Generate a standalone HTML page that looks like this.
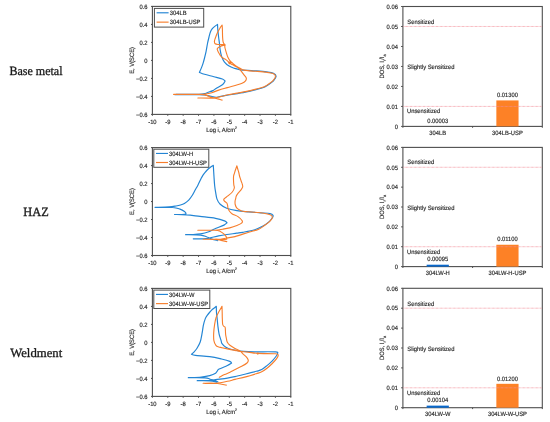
<!DOCTYPE html>
<html><head><meta charset="utf-8"><title>Polarization curves and DOS</title>
<style>html,body{margin:0;padding:0;background:#fff;width:550px;height:422px;overflow:hidden}svg{display:block}</style>
</head><body>
<svg width="550" height="422" viewBox="0 0 550 422" font-family="'Liberation Sans', Arial, sans-serif" font-size="6.25" fill="#262626" text-rendering="geometricPrecision">
<rect width="550" height="422" fill="#fff"/>
<text x="9.5" y="74.9" font-family="'Liberation Serif', 'Times New Roman', serif" font-size="12.6" fill="#1a1a1a" stroke="#1a1a1a" stroke-width="0.3" textLength="53" lengthAdjust="spacingAndGlyphs">Base metal</text>
<text x="23.3" y="215.7" font-family="'Liberation Serif', 'Times New Roman', serif" font-size="12.6" fill="#1a1a1a" stroke="#1a1a1a" stroke-width="0.3" textLength="25.4" lengthAdjust="spacingAndGlyphs">HAZ</text>
<text x="10.2" y="356.5" font-family="'Liberation Serif', 'Times New Roman', serif" font-size="12.6" fill="#1a1a1a" stroke="#1a1a1a" stroke-width="0.3" textLength="52.1" lengthAdjust="spacingAndGlyphs">Weldment</text>
<rect x="152.4" y="6.4" width="138.4" height="108" fill="none" stroke="#4e4e4e" stroke-width="1.1"/>
<line x1="151" y1="6.4" x2="152.4" y2="6.4" stroke="#4e4e4e" stroke-width="1"/>
<text transform="translate(147.6,8.84) scale(0.93,1)" text-anchor="end" stroke="#262626" stroke-width="0.15">0.6</text>
<line x1="151" y1="24.4" x2="152.4" y2="24.4" stroke="#4e4e4e" stroke-width="1"/>
<text transform="translate(147.6,26.84) scale(0.93,1)" text-anchor="end" stroke="#262626" stroke-width="0.15">0.4</text>
<line x1="151" y1="42.4" x2="152.4" y2="42.4" stroke="#4e4e4e" stroke-width="1"/>
<text transform="translate(147.6,44.84) scale(0.93,1)" text-anchor="end" stroke="#262626" stroke-width="0.15">0.2</text>
<line x1="151" y1="60.4" x2="152.4" y2="60.4" stroke="#4e4e4e" stroke-width="1"/>
<text transform="translate(147.6,62.84) scale(0.93,1)" text-anchor="end" stroke="#262626" stroke-width="0.15">0</text>
<line x1="151" y1="78.4" x2="152.4" y2="78.4" stroke="#4e4e4e" stroke-width="1"/>
<text transform="translate(147.6,80.84) scale(0.93,1)" text-anchor="end" stroke="#262626" stroke-width="0.15">−0.2</text>
<line x1="151" y1="96.4" x2="152.4" y2="96.4" stroke="#4e4e4e" stroke-width="1"/>
<text transform="translate(147.6,98.84) scale(0.93,1)" text-anchor="end" stroke="#262626" stroke-width="0.15">−0.4</text>
<line x1="151" y1="114.4" x2="152.4" y2="114.4" stroke="#4e4e4e" stroke-width="1"/>
<text transform="translate(147.6,116.84) scale(0.93,1)" text-anchor="end" stroke="#262626" stroke-width="0.15">−0.6</text>
<line x1="152.4" y1="114.4" x2="152.4" y2="115.8" stroke="#4e4e4e" stroke-width="1"/>
<text transform="translate(152.4,123.6) scale(0.93,1)" text-anchor="middle" stroke="#262626" stroke-width="0.15">-10</text>
<line x1="167.78" y1="114.4" x2="167.78" y2="115.8" stroke="#4e4e4e" stroke-width="1"/>
<text transform="translate(167.78,123.6) scale(0.93,1)" text-anchor="middle" stroke="#262626" stroke-width="0.15">-9</text>
<line x1="183.16" y1="114.4" x2="183.16" y2="115.8" stroke="#4e4e4e" stroke-width="1"/>
<text transform="translate(183.16,123.6) scale(0.93,1)" text-anchor="middle" stroke="#262626" stroke-width="0.15">-8</text>
<line x1="198.53" y1="114.4" x2="198.53" y2="115.8" stroke="#4e4e4e" stroke-width="1"/>
<text transform="translate(198.53,123.6) scale(0.93,1)" text-anchor="middle" stroke="#262626" stroke-width="0.15">-7</text>
<line x1="213.91" y1="114.4" x2="213.91" y2="115.8" stroke="#4e4e4e" stroke-width="1"/>
<text transform="translate(213.91,123.6) scale(0.93,1)" text-anchor="middle" stroke="#262626" stroke-width="0.15">-6</text>
<line x1="229.29" y1="114.4" x2="229.29" y2="115.8" stroke="#4e4e4e" stroke-width="1"/>
<text transform="translate(229.29,123.6) scale(0.93,1)" text-anchor="middle" stroke="#262626" stroke-width="0.15">-5</text>
<line x1="244.67" y1="114.4" x2="244.67" y2="115.8" stroke="#4e4e4e" stroke-width="1"/>
<text transform="translate(244.67,123.6) scale(0.93,1)" text-anchor="middle" stroke="#262626" stroke-width="0.15">-4</text>
<line x1="260.04" y1="114.4" x2="260.04" y2="115.8" stroke="#4e4e4e" stroke-width="1"/>
<text transform="translate(260.04,123.6) scale(0.93,1)" text-anchor="middle" stroke="#262626" stroke-width="0.15">-3</text>
<line x1="275.42" y1="114.4" x2="275.42" y2="115.8" stroke="#4e4e4e" stroke-width="1"/>
<text transform="translate(275.42,123.6) scale(0.93,1)" text-anchor="middle" stroke="#262626" stroke-width="0.15">-2</text>
<line x1="290.8" y1="114.4" x2="290.8" y2="115.8" stroke="#4e4e4e" stroke-width="1"/>
<text transform="translate(290.8,123.6) scale(0.93,1)" text-anchor="middle" stroke="#262626" stroke-width="0.15">-1</text>
<text transform="translate(221.6,131.5) scale(0.93,1)" text-anchor="middle" stroke="#262626" stroke-width="0.15">Log i, A/cm<tspan font-size="3.6" dy="-2.2">2</tspan></text>
<text transform="translate(134.4,60.4) rotate(-90) scale(0.93,1)" text-anchor="middle" stroke="#262626" stroke-width="0.15">E, V(SCE)</text>
<rect x="154.4" y="8.4" width="49.3" height="18.7" fill="#fff" stroke="#4e4e4e" stroke-width="1"/>
<line x1="156.6" y1="12.79" x2="168.6" y2="12.79" stroke="#2385d4" stroke-width="1.15"/>
<line x1="156.6" y1="22.14" x2="168.6" y2="22.14" stroke="#f77e2c" stroke-width="1.15"/>
<text transform="translate(169.7,15.03) scale(0.93,1)" text-anchor="start" stroke="#262626" stroke-width="0.15">304LB</text>
<text transform="translate(169.7,24.38) scale(0.93,1)" text-anchor="start" stroke="#262626" stroke-width="0.15">304LB-USP</text>
<path d="M175,94.7 C179,94.68 194.1,94.55 199,94.6 C203.9,94.65 202.9,94.83 204.4,95 C205.9,95.17 206.7,95.35 208,95.6 C209.3,95.85 211.03,96.23 212.2,96.5 C213.37,96.77 214.03,97.12 215,97.2 C215.97,97.28 216.17,97.3 218,97 C219.83,96.7 223.7,95.82 226,95.4 C228.3,94.98 228.58,95.05 231.8,94.5 C235.02,93.95 241.27,92.92 245.3,92.1 C249.33,91.28 252.97,90.37 256,89.6 C259.03,88.83 261.5,88.28 263.5,87.5 C265.5,86.72 266.33,86.02 268,84.9 C269.67,83.78 272.15,82.23 273.5,80.8 C274.85,79.37 276.12,77.57 276.1,76.3 C276.08,75.03 274.97,73.93 273.4,73.2 C271.83,72.47 269.6,72.28 266.7,71.9 C263.8,71.52 259.12,71.15 256,70.9 C252.88,70.65 250.6,70.58 248,70.4 C245.4,70.22 242.62,70.13 240.4,69.8 C238.18,69.47 236.58,69.02 234.7,68.4 C232.82,67.78 230.83,67.2 229.1,66.1 C227.37,65 225.57,63.47 224.3,61.8 C223.03,60.13 222.2,58.15 221.5,56.1 C220.8,54.05 220.42,51.43 220.1,49.5 C219.78,47.57 219.85,46.58 219.6,44.5 C219.35,42.42 218.9,39.52 218.6,37 C218.3,34.48 217.98,31.5 217.8,29.4 C217.62,27.3 217.55,25.23 217.5,24.4 C217,24.77 215.37,25.88 214.5,26.6 C213.63,27.32 212.98,27.8 212.3,28.7 C211.62,29.6 210.97,30.53 210.4,32 C209.83,33.47 209.38,35.58 208.9,37.5 C208.42,39.42 207.97,41.2 207.5,43.5 C207.03,45.8 206.62,48.8 206.1,51.3 C205.58,53.8 204.88,56.58 204.4,58.5 C203.92,60.42 203.63,61.4 203.2,62.8 C202.77,64.2 202.43,65.3 201.8,66.9 C201.17,68.5 199.8,71.48 199.4,72.4 C200.25,72.72 202.08,73.58 204.5,74.3 C206.92,75.02 210.93,75.92 213.9,76.7 C216.87,77.48 220.43,78.28 222.3,79 C224.17,79.72 224.63,80.67 225.1,81 C224.7,81.58 224.15,83.3 222.7,84.5 C221.25,85.7 218.03,87.18 216.4,88.2 C214.77,89.22 214.35,89.88 212.9,90.6 C211.45,91.32 209.12,92 207.7,92.5 C206.28,93 205.85,93.3 204.4,93.6 C202.95,93.9 203.73,94.18 199,94.3 C194.27,94.42 179.83,94.3 176,94.3" fill="none" stroke="#2385d4" stroke-width="1.18" stroke-linejoin="round" stroke-linecap="round"/>
<path d="M222.1,100.1 C221.12,99.82 217.73,98.75 216.2,98.4 C214.67,98.05 215.95,98.07 212.9,98 C209.85,97.93 200.4,98 197.9,98 C200.4,98.01 209.8,98.12 212.9,98.05 C216,97.98 214.32,98.07 216.5,97.6 C218.68,97.12 223.45,95.78 226,95.2 C228.55,94.62 228.58,94.7 231.8,94.1 C235.02,93.5 241.27,92.43 245.3,91.6 C249.33,90.77 252.97,89.87 256,89.1 C259.03,88.33 261.55,87.75 263.5,87 C265.45,86.25 266.12,85.67 267.7,84.6 C269.28,83.53 271.7,81.98 273,80.6 C274.3,79.22 275.5,77.47 275.5,76.3 C275.5,75.13 274.47,74.27 273,73.6 C271.53,72.93 269.53,72.68 266.7,72.3 C263.87,71.92 258.78,71.53 256,71.3 C253.22,71.07 252,71.1 250,70.9 C248,70.7 245.58,70.48 244,70.1 C242.42,69.72 241.85,69.3 240.5,68.6 C239.15,67.9 237.22,66.8 235.9,65.9 C234.58,65 233.6,64.08 232.6,63.2 C231.6,62.32 230.68,61.58 229.9,60.6 C229.12,59.62 228.5,58.63 227.9,57.3 C227.3,55.97 226.78,54.15 226.3,52.6 C225.82,51.05 225.28,49.27 225,48 C224.72,46.73 224.92,46.03 224.6,45 C224.28,43.97 223.43,43.13 223.1,41.8 C222.77,40.47 222.72,39.07 222.6,37 C222.48,34.93 222.48,31.4 222.4,29.4 C222.32,27.4 222.15,25.73 222.1,25 C221.77,25.48 220.88,26.6 220.1,27.9 C219.32,29.2 218.22,31.03 217.4,32.8 C216.58,34.57 215.7,37.05 215.2,38.5 C214.7,39.95 214.4,40.62 214.4,41.5 C214.4,42.38 214.57,43.3 215.2,43.8 C215.83,44.3 216.95,44.37 218.2,44.5 C219.45,44.63 221.65,44.53 222.7,44.6 C223.75,44.67 224.2,44.85 224.5,44.9 C223.95,45.1 222.25,45.65 221.2,46.1 C220.15,46.55 218.87,47.08 218.2,47.6 C217.53,48.12 217.13,48.37 217.2,49.2 C217.27,50.03 218.03,51.48 218.6,52.6 C219.17,53.72 219.82,54.95 220.6,55.9 C221.38,56.85 222.42,57.68 223.3,58.3 C224.18,58.92 225.08,59.05 225.9,59.6 C226.72,60.15 227.63,60.93 228.2,61.6 C228.77,62.27 228.92,63.3 229.3,63.6 C229.68,63.9 230.33,63.65 230.5,63.4 C230.67,63.15 230.5,62.27 230.3,62.1 C230.1,61.93 229.1,62.05 229.3,62.4 C229.5,62.75 230.73,63.7 231.5,64.2 C232.27,64.7 232.83,64.83 233.9,65.4 C234.97,65.97 236.78,66.77 237.9,67.6 C239.02,68.43 239.55,69.15 240.6,70.4 C241.65,71.65 243.25,73.8 244.2,75.1 C245.15,76.4 246.12,77.2 246.3,78.2 C246.48,79.2 246,80.27 245.3,81.1 C244.6,81.93 243.65,82.52 242.1,83.2 C240.55,83.88 238.47,84.47 236,85.2 C233.53,85.93 230.18,86.78 227.3,87.6 C224.42,88.42 221.28,89.25 218.7,90.1 C216.12,90.95 214.08,92.03 211.8,92.7 C209.52,93.37 207.13,93.82 205,94.1 C202.87,94.38 204.23,94.35 199,94.4 C193.77,94.45 177.83,94.4 173.6,94.4 C178,94.42 194.77,94.4 200,94.5 C205.23,94.6 203.5,94.68 205,95 C206.5,95.32 207.75,95.98 209,96.4 C210.25,96.82 211.37,97.2 212.5,97.5 C213.63,97.8 215.25,98.08 215.8,98.2" fill="none" stroke="#f77e2c" stroke-width="1.12" stroke-linejoin="round" stroke-linecap="round"/>
<circle cx="224.5" cy="44.9" r="1.1" fill="#f77e2c"/>
<rect x="152.4" y="147.6" width="138.4" height="107.9" fill="none" stroke="#4e4e4e" stroke-width="1.1"/>
<line x1="151" y1="147.6" x2="152.4" y2="147.6" stroke="#4e4e4e" stroke-width="1"/>
<text transform="translate(147.6,150.04) scale(0.93,1)" text-anchor="end" stroke="#262626" stroke-width="0.15">0.6</text>
<line x1="151" y1="165.58" x2="152.4" y2="165.58" stroke="#4e4e4e" stroke-width="1"/>
<text transform="translate(147.6,168.02) scale(0.93,1)" text-anchor="end" stroke="#262626" stroke-width="0.15">0.4</text>
<line x1="151" y1="183.57" x2="152.4" y2="183.57" stroke="#4e4e4e" stroke-width="1"/>
<text transform="translate(147.6,186.01) scale(0.93,1)" text-anchor="end" stroke="#262626" stroke-width="0.15">0.2</text>
<line x1="151" y1="201.55" x2="152.4" y2="201.55" stroke="#4e4e4e" stroke-width="1"/>
<text transform="translate(147.6,203.99) scale(0.93,1)" text-anchor="end" stroke="#262626" stroke-width="0.15">0</text>
<line x1="151" y1="219.53" x2="152.4" y2="219.53" stroke="#4e4e4e" stroke-width="1"/>
<text transform="translate(147.6,221.97) scale(0.93,1)" text-anchor="end" stroke="#262626" stroke-width="0.15">−0.2</text>
<line x1="151" y1="237.52" x2="152.4" y2="237.52" stroke="#4e4e4e" stroke-width="1"/>
<text transform="translate(147.6,239.96) scale(0.93,1)" text-anchor="end" stroke="#262626" stroke-width="0.15">−0.4</text>
<line x1="151" y1="255.5" x2="152.4" y2="255.5" stroke="#4e4e4e" stroke-width="1"/>
<text transform="translate(147.6,257.94) scale(0.93,1)" text-anchor="end" stroke="#262626" stroke-width="0.15">−0.6</text>
<line x1="152.4" y1="255.5" x2="152.4" y2="256.9" stroke="#4e4e4e" stroke-width="1"/>
<text transform="translate(152.4,264.7) scale(0.93,1)" text-anchor="middle" stroke="#262626" stroke-width="0.15">-10</text>
<line x1="167.78" y1="255.5" x2="167.78" y2="256.9" stroke="#4e4e4e" stroke-width="1"/>
<text transform="translate(167.78,264.7) scale(0.93,1)" text-anchor="middle" stroke="#262626" stroke-width="0.15">-9</text>
<line x1="183.16" y1="255.5" x2="183.16" y2="256.9" stroke="#4e4e4e" stroke-width="1"/>
<text transform="translate(183.16,264.7) scale(0.93,1)" text-anchor="middle" stroke="#262626" stroke-width="0.15">-8</text>
<line x1="198.53" y1="255.5" x2="198.53" y2="256.9" stroke="#4e4e4e" stroke-width="1"/>
<text transform="translate(198.53,264.7) scale(0.93,1)" text-anchor="middle" stroke="#262626" stroke-width="0.15">-7</text>
<line x1="213.91" y1="255.5" x2="213.91" y2="256.9" stroke="#4e4e4e" stroke-width="1"/>
<text transform="translate(213.91,264.7) scale(0.93,1)" text-anchor="middle" stroke="#262626" stroke-width="0.15">-6</text>
<line x1="229.29" y1="255.5" x2="229.29" y2="256.9" stroke="#4e4e4e" stroke-width="1"/>
<text transform="translate(229.29,264.7) scale(0.93,1)" text-anchor="middle" stroke="#262626" stroke-width="0.15">-5</text>
<line x1="244.67" y1="255.5" x2="244.67" y2="256.9" stroke="#4e4e4e" stroke-width="1"/>
<text transform="translate(244.67,264.7) scale(0.93,1)" text-anchor="middle" stroke="#262626" stroke-width="0.15">-4</text>
<line x1="260.04" y1="255.5" x2="260.04" y2="256.9" stroke="#4e4e4e" stroke-width="1"/>
<text transform="translate(260.04,264.7) scale(0.93,1)" text-anchor="middle" stroke="#262626" stroke-width="0.15">-3</text>
<line x1="275.42" y1="255.5" x2="275.42" y2="256.9" stroke="#4e4e4e" stroke-width="1"/>
<text transform="translate(275.42,264.7) scale(0.93,1)" text-anchor="middle" stroke="#262626" stroke-width="0.15">-2</text>
<line x1="290.8" y1="255.5" x2="290.8" y2="256.9" stroke="#4e4e4e" stroke-width="1"/>
<text transform="translate(290.8,264.7) scale(0.93,1)" text-anchor="middle" stroke="#262626" stroke-width="0.15">-1</text>
<text transform="translate(221.6,272.6) scale(0.93,1)" text-anchor="middle" stroke="#262626" stroke-width="0.15">Log i, A/cm<tspan font-size="3.6" dy="-2.2">2</tspan></text>
<text transform="translate(134.4,201.55) rotate(-90) scale(0.93,1)" text-anchor="middle" stroke="#262626" stroke-width="0.15">E, V(SCE)</text>
<rect x="153.8" y="149.2" width="55" height="18.1" fill="#fff" stroke="#4e4e4e" stroke-width="1"/>
<line x1="156" y1="153.45" x2="168" y2="153.45" stroke="#2385d4" stroke-width="1.15"/>
<line x1="156" y1="162.5" x2="168" y2="162.5" stroke="#f77e2c" stroke-width="1.15"/>
<text transform="translate(169.1,155.69) scale(0.93,1)" text-anchor="start" stroke="#262626" stroke-width="0.15">304LW-H</text>
<text transform="translate(169.1,164.74) scale(0.93,1)" text-anchor="start" stroke="#262626" stroke-width="0.15">304LW-H-USP</text>
<path d="M193.3,238.8 C194.8,238.8 199.82,238.88 202.3,238.8 C204.78,238.72 205.48,238.78 208.2,238.3 C210.92,237.82 215.5,236.53 218.6,235.9 C221.7,235.27 223.75,234.95 226.8,234.5 C229.85,234.05 234.23,233.57 236.9,233.2 C239.57,232.83 239.83,232.88 242.8,232.3 C245.77,231.72 251.33,230.73 254.7,229.7 C258.07,228.67 260.63,227.4 263,226.1 C265.37,224.8 267.33,223.28 268.9,221.9 C270.47,220.52 271.72,218.88 272.4,217.8 C273.08,216.72 273.38,216.1 273,215.4 C272.62,214.7 272.17,214.03 270.1,213.6 C268.03,213.17 264.17,213.08 260.6,212.8 C257.03,212.52 252.65,212.25 248.7,211.9 C244.75,211.55 240.57,211.32 236.9,210.7 C233.23,210.08 229.48,209.27 226.7,208.2 C223.92,207.13 221.82,205.82 220.2,204.3 C218.58,202.78 217.75,201.05 217,199.1 C216.25,197.15 216.08,194.78 215.7,192.6 C215.32,190.42 214.98,188.63 214.7,186 C214.42,183.37 214.23,180.25 214,176.8 C213.77,173.35 213.42,167.22 213.3,165.3 C212.97,165.52 211.95,166.15 211.3,166.6 C210.65,167.05 210.08,167.43 209.4,168 C208.72,168.57 207.92,169.28 207.2,170 C206.48,170.72 205.8,171.45 205.1,172.3 C204.4,173.15 203.65,174.1 203,175.1 C202.35,176.1 202.03,176.67 201.2,178.3 C200.37,179.93 198.98,182.98 198,184.9 C197.02,186.82 196.3,187.98 195.3,189.8 C194.3,191.62 193.1,194.08 192,195.8 C190.9,197.52 189.97,198.83 188.7,200.1 C187.43,201.37 185.77,202.58 184.4,203.4 C183.03,204.22 181.9,204.57 180.5,205 C179.1,205.43 177.9,205.68 176,206 C174.1,206.32 172.6,206.68 169.1,206.9 C165.6,207.12 157.35,207.23 155,207.3 C157.95,207.33 168.53,207.2 172.7,207.5 C176.87,207.8 178.03,208.45 180,209.1 C181.97,209.75 183.52,210.72 184.5,211.4 C185.48,212.08 185.9,212.72 185.9,213.2 C185.9,213.68 186.4,214.08 184.5,214.3 C182.6,214.52 176.17,214.47 174.5,214.5 C176.48,214.55 182.15,214.48 186.4,214.8 C190.65,215.12 195.15,215.82 200,216.4 C204.85,216.98 211.42,217.55 215.5,218.3 C219.58,219.05 222.58,220.15 224.5,220.9 C226.42,221.65 226.58,222.48 227,222.8 C226.5,223.18 226.08,224.07 224,225.1 C221.92,226.13 217.03,227.88 214.5,229 C211.97,230.12 211.12,230.98 208.8,231.8 C206.48,232.62 203.4,233.43 200.6,233.9 C197.8,234.37 194.5,234.47 192,234.6 C189.5,234.73 186.67,234.68 185.6,234.7 C188.1,234.77 197.13,234.77 200.6,235.1 C204.07,235.43 204.75,236.12 206.4,236.7 C208.05,237.28 208.6,237.93 210.5,238.6 C212.4,239.27 216.58,240.35 217.8,240.7" fill="none" stroke="#2385d4" stroke-width="1.18" stroke-linejoin="round" stroke-linecap="round"/>
<path d="M226.8,241.6 C225.85,241.4 222.9,240.77 221.1,240.4 C219.3,240.03 219,239.6 216,239.4 C213,239.2 205.25,239.23 203.1,239.2 C205.42,239.23 213.05,239.6 217,239.4 C220.95,239.2 223.8,238.47 226.8,238 C229.8,237.53 231.35,237.57 235,236.6 C238.65,235.63 244.83,233.4 248.7,232.2 C252.57,231 255.63,230.47 258.2,229.4 C260.77,228.33 262.17,227.13 264.1,225.8 C266.03,224.47 268.42,222.82 269.8,221.4 C271.18,219.98 272.35,218.4 272.4,217.3 C272.45,216.2 272.07,215.55 270.1,214.8 C268.13,214.05 264.28,213.3 260.6,212.8 C256.92,212.3 250.97,212.05 248,211.8 C245.03,211.55 244.17,211.58 242.8,211.3 C241.43,211.02 240.78,210.62 239.8,210.1 C238.82,209.58 237.67,209.13 236.9,208.2 C236.13,207.27 235.5,205.7 235.2,204.5 C234.9,203.3 235.02,201.98 235.1,201 C235.18,200.02 235.52,199.4 235.7,198.6 C235.88,197.8 235.88,196.98 236.2,196.2 C236.52,195.42 236.83,194.9 237.6,193.9 C238.37,192.9 239.97,191.32 240.8,190.2 C241.63,189.08 242.33,188.15 242.6,187.2 C242.87,186.25 242.62,185.45 242.4,184.5 C242.18,183.55 241.67,182.55 241.3,181.5 C240.93,180.45 240.52,179.2 240.2,178.2 C239.88,177.2 239.62,176.37 239.4,175.5 C239.18,174.63 239.2,174.17 238.9,173 C238.6,171.83 237.93,169.7 237.6,168.5 C237.27,167.3 237.02,166.25 236.9,165.8 C236.68,166.42 236.02,168.25 235.6,169.5 C235.18,170.75 234.73,172.22 234.4,173.3 C234.07,174.38 233.75,174.88 233.6,176 C233.45,177.12 233.47,178.53 233.5,180 C233.53,181.47 233.67,183.47 233.8,184.8 C233.93,186.13 234.55,186.8 234.3,188 C234.05,189.2 233.38,190.68 232.3,192 C231.22,193.32 229.2,194.72 227.8,195.9 C226.4,197.08 224.45,198.23 223.9,199.1 C223.35,199.97 224.02,200.45 224.5,201.1 C224.98,201.75 226.27,202.18 226.8,203 C227.33,203.82 227.5,205.1 227.7,206 C227.9,206.9 227.67,207.48 228,208.4 C228.33,209.32 228.98,210.58 229.7,211.5 C230.42,212.42 230.92,213.05 232.3,213.9 C233.68,214.75 236.35,215.45 238,216.6 C239.65,217.75 241.6,219.72 242.2,220.8 C242.8,221.88 242.48,222.32 241.6,223.1 C240.72,223.88 238.88,224.7 236.9,225.5 C234.92,226.3 232.07,227.28 229.7,227.9 C227.33,228.52 225.23,228.82 222.7,229.2 C220.17,229.58 218.65,230.03 214.5,230.2 C210.35,230.37 200.58,230.2 197.8,230.2 C200.58,230.22 210.75,230.1 214.5,230.3 C218.25,230.5 218.65,230.73 220.3,231.4 C221.95,232.07 223.38,233.35 224.4,234.3 C225.42,235.25 226,236.28 226.4,237.1 C226.8,237.92 226.73,238.85 226.8,239.2 C226.33,239.25 225.37,239.47 224,239.5 C222.63,239.53 219.5,239.42 218.6,239.4" fill="none" stroke="#f77e2c" stroke-width="1.12" stroke-linejoin="round" stroke-linecap="round"/>
<rect x="152.4" y="288.4" width="138.4" height="108" fill="none" stroke="#4e4e4e" stroke-width="1.1"/>
<line x1="151" y1="288.4" x2="152.4" y2="288.4" stroke="#4e4e4e" stroke-width="1"/>
<text transform="translate(147.6,290.84) scale(0.93,1)" text-anchor="end" stroke="#262626" stroke-width="0.15">0.6</text>
<line x1="151" y1="306.4" x2="152.4" y2="306.4" stroke="#4e4e4e" stroke-width="1"/>
<text transform="translate(147.6,308.84) scale(0.93,1)" text-anchor="end" stroke="#262626" stroke-width="0.15">0.4</text>
<line x1="151" y1="324.4" x2="152.4" y2="324.4" stroke="#4e4e4e" stroke-width="1"/>
<text transform="translate(147.6,326.84) scale(0.93,1)" text-anchor="end" stroke="#262626" stroke-width="0.15">0.2</text>
<line x1="151" y1="342.4" x2="152.4" y2="342.4" stroke="#4e4e4e" stroke-width="1"/>
<text transform="translate(147.6,344.84) scale(0.93,1)" text-anchor="end" stroke="#262626" stroke-width="0.15">0</text>
<line x1="151" y1="360.4" x2="152.4" y2="360.4" stroke="#4e4e4e" stroke-width="1"/>
<text transform="translate(147.6,362.84) scale(0.93,1)" text-anchor="end" stroke="#262626" stroke-width="0.15">−0.2</text>
<line x1="151" y1="378.4" x2="152.4" y2="378.4" stroke="#4e4e4e" stroke-width="1"/>
<text transform="translate(147.6,380.84) scale(0.93,1)" text-anchor="end" stroke="#262626" stroke-width="0.15">−0.4</text>
<line x1="151" y1="396.4" x2="152.4" y2="396.4" stroke="#4e4e4e" stroke-width="1"/>
<text transform="translate(147.6,398.84) scale(0.93,1)" text-anchor="end" stroke="#262626" stroke-width="0.15">−0.6</text>
<line x1="152.4" y1="396.4" x2="152.4" y2="397.8" stroke="#4e4e4e" stroke-width="1"/>
<text transform="translate(152.4,405.6) scale(0.93,1)" text-anchor="middle" stroke="#262626" stroke-width="0.15">-10</text>
<line x1="167.78" y1="396.4" x2="167.78" y2="397.8" stroke="#4e4e4e" stroke-width="1"/>
<text transform="translate(167.78,405.6) scale(0.93,1)" text-anchor="middle" stroke="#262626" stroke-width="0.15">-9</text>
<line x1="183.16" y1="396.4" x2="183.16" y2="397.8" stroke="#4e4e4e" stroke-width="1"/>
<text transform="translate(183.16,405.6) scale(0.93,1)" text-anchor="middle" stroke="#262626" stroke-width="0.15">-8</text>
<line x1="198.53" y1="396.4" x2="198.53" y2="397.8" stroke="#4e4e4e" stroke-width="1"/>
<text transform="translate(198.53,405.6) scale(0.93,1)" text-anchor="middle" stroke="#262626" stroke-width="0.15">-7</text>
<line x1="213.91" y1="396.4" x2="213.91" y2="397.8" stroke="#4e4e4e" stroke-width="1"/>
<text transform="translate(213.91,405.6) scale(0.93,1)" text-anchor="middle" stroke="#262626" stroke-width="0.15">-6</text>
<line x1="229.29" y1="396.4" x2="229.29" y2="397.8" stroke="#4e4e4e" stroke-width="1"/>
<text transform="translate(229.29,405.6) scale(0.93,1)" text-anchor="middle" stroke="#262626" stroke-width="0.15">-5</text>
<line x1="244.67" y1="396.4" x2="244.67" y2="397.8" stroke="#4e4e4e" stroke-width="1"/>
<text transform="translate(244.67,405.6) scale(0.93,1)" text-anchor="middle" stroke="#262626" stroke-width="0.15">-4</text>
<line x1="260.04" y1="396.4" x2="260.04" y2="397.8" stroke="#4e4e4e" stroke-width="1"/>
<text transform="translate(260.04,405.6) scale(0.93,1)" text-anchor="middle" stroke="#262626" stroke-width="0.15">-3</text>
<line x1="275.42" y1="396.4" x2="275.42" y2="397.8" stroke="#4e4e4e" stroke-width="1"/>
<text transform="translate(275.42,405.6) scale(0.93,1)" text-anchor="middle" stroke="#262626" stroke-width="0.15">-2</text>
<line x1="290.8" y1="396.4" x2="290.8" y2="397.8" stroke="#4e4e4e" stroke-width="1"/>
<text transform="translate(290.8,405.6) scale(0.93,1)" text-anchor="middle" stroke="#262626" stroke-width="0.15">-1</text>
<text transform="translate(221.6,413.5) scale(0.93,1)" text-anchor="middle" stroke="#262626" stroke-width="0.15">Log i, A/cm<tspan font-size="3.6" dy="-2.2">2</tspan></text>
<text transform="translate(134.4,342.4) rotate(-90) scale(0.93,1)" text-anchor="middle" stroke="#262626" stroke-width="0.15">E, V(SCE)</text>
<rect x="153.8" y="290.1" width="56" height="18.4" fill="#fff" stroke="#4e4e4e" stroke-width="1"/>
<line x1="156" y1="294.42" x2="168" y2="294.42" stroke="#2385d4" stroke-width="1.15"/>
<line x1="156" y1="303.62" x2="168" y2="303.62" stroke="#f77e2c" stroke-width="1.15"/>
<text transform="translate(169.1,296.66) scale(0.93,1)" text-anchor="start" stroke="#262626" stroke-width="0.15">304LW-W</text>
<text transform="translate(169.1,305.86) scale(0.93,1)" text-anchor="start" stroke="#262626" stroke-width="0.15">304LW-W-USP</text>
<path d="M216.8,382.1 C215.62,381.88 212.97,381.03 209.7,380.8 C206.43,380.57 199.28,380.72 197.2,380.7 C199.28,380.68 206.63,380.77 209.7,380.6 C212.77,380.43 212.65,380.12 215.6,379.7 C218.55,379.28 224.17,378.62 227.4,378.1 C230.63,377.58 231.95,377.28 235,376.6 C238.05,375.92 242.15,374.88 245.7,374 C249.25,373.12 253.63,372.03 256.3,371.3 C258.97,370.57 259.92,370.55 261.7,369.6 C263.48,368.65 265.23,367.07 267,365.6 C268.77,364.13 270.75,362.4 272.3,360.8 C273.85,359.2 275.42,357.25 276.3,356 C277.18,354.75 277.72,353.98 277.6,353.3 C277.48,352.62 278.87,352.15 275.6,351.9 C272.33,351.65 262.57,351.83 258,351.8 C253.43,351.77 251.15,351.82 248.2,351.7 C245.25,351.58 243.03,351.47 240.3,351.1 C237.57,350.73 234.2,350.15 231.8,349.5 C229.4,348.85 227.53,348.18 225.9,347.2 C224.27,346.22 222.8,344.7 222,343.6 C221.2,342.5 221.58,342.18 221.1,340.6 C220.62,339.02 219.63,336.52 219.1,334.1 C218.57,331.68 218.23,328.78 217.9,326.1 C217.57,323.42 217.33,320.22 217.1,318 C216.87,315.78 216.63,314.75 216.5,312.8 C216.37,310.85 216.33,307.38 216.3,306.3 C215.67,306.8 213.57,308.35 212.5,309.3 C211.43,310.25 210.78,311 209.9,312 C209.02,313 207.97,314.2 207.2,315.3 C206.43,316.4 205.93,316.95 205.3,318.6 C204.67,320.25 203.93,322.77 203.4,325.2 C202.87,327.63 202.63,330.4 202.1,333.2 C201.57,336 201.05,339.5 200.2,342 C199.35,344.5 198.1,346.47 197,348.2 C195.9,349.93 194.52,351.38 193.6,352.4 C192.68,353.42 191.85,353.98 191.5,354.3 C192.15,354.48 192.37,355.02 195.4,355.4 C198.43,355.78 205.35,356 209.7,356.6 C214.05,357.2 218.15,358.2 221.5,359 C224.85,359.8 228.12,360.72 229.8,361.4 C231.48,362.08 231.3,362.82 231.6,363.1 C230.9,363.5 229.48,364.5 227.4,365.5 C225.32,366.5 220.77,368.22 219.1,369.1 C217.43,369.98 217.98,370.12 217.4,370.8 C216.82,371.48 216.88,372.4 215.6,373.2 C214.32,374 212.07,374.97 209.7,375.6 C207.33,376.23 204.97,376.65 201.4,377 C197.83,377.35 190.48,377.58 188.3,377.7 C191.08,377.72 201.43,377.57 205,377.8 C208.57,378.03 207.93,378.58 209.7,379.1 C211.47,379.62 214.22,380.42 215.6,380.9 C216.98,381.38 217.6,381.82 218,382" fill="none" stroke="#2385d4" stroke-width="1.18" stroke-linejoin="round" stroke-linecap="round"/>
<path d="M226.3,385.1 C224.52,384.8 219.47,383.6 215.6,383.3 C211.73,383 205.18,383.3 203.1,383.3 C205.18,383.28 211.55,383.53 215.6,383.2 C219.65,382.87 224.17,381.93 227.4,381.3 C230.63,380.67 231.95,380.13 235,379.4 C238.05,378.67 242.15,377.85 245.7,376.9 C249.25,375.95 253.63,374.55 256.3,373.7 C258.97,372.85 259.92,372.72 261.7,371.8 C263.48,370.88 265.23,369.58 267,368.2 C268.77,366.82 270.7,365.08 272.3,363.5 C273.9,361.92 275.62,360.07 276.6,358.7 C277.58,357.33 278.37,356.12 278.2,355.3 C278.03,354.48 278.97,354.12 275.6,353.8 C272.23,353.48 262.57,353.68 258,353.4 C253.43,353.12 251.15,352.43 248.2,352.1 C245.25,351.77 242.48,351.68 240.3,351.4 C238.12,351.12 237.07,350.78 235.1,350.4 C233.13,350.02 230.68,349.55 228.5,349.1 C226.32,348.65 223.63,348.05 222,347.7 C220.37,347.35 219.72,347.38 218.7,347 C217.68,346.62 216.7,346.47 215.9,345.4 C215.1,344.33 214.27,342.68 213.9,340.6 C213.53,338.52 213.58,335.57 213.7,332.9 C213.82,330.23 214.2,327.17 214.6,324.6 C215,322.03 215.37,319.67 216.1,317.5 C216.83,315.33 218.02,313.47 219,311.6 C219.98,309.73 221.5,307.18 222,306.3 C222.03,307.38 222.15,310.85 222.2,312.8 C222.25,314.75 222.22,316.05 222.3,318 C222.38,319.95 222.42,323.08 222.7,324.5 C222.98,325.92 223.58,326 224,326.5 C224.42,327 224.93,326.23 225.2,327.5 C225.47,328.77 225.42,332.35 225.6,334.1 C225.78,335.85 226.03,336.7 226.3,338 C226.57,339.3 226.6,340.7 227.2,341.9 C227.8,343.1 228.58,344.1 229.9,345.2 C231.22,346.3 233.47,347.57 235.1,348.5 C236.73,349.43 238.28,349.82 239.7,350.8 C241.12,351.78 242.4,353.27 243.6,354.4 C244.8,355.53 246.12,356.6 246.9,357.6 C247.68,358.6 248.28,359.5 248.3,360.4 C248.32,361.3 248.1,362.02 247,363 C245.9,363.98 243.67,365.22 241.7,366.3 C239.73,367.38 237.15,368.52 235.2,369.5 C233.25,370.48 231.78,371.35 230,372.2 C228.22,373.05 226.28,373.75 224.5,374.6 C222.72,375.45 220.17,376.85 219.3,377.3" fill="none" stroke="#f77e2c" stroke-width="1.12" stroke-linejoin="round" stroke-linecap="round"/>
<circle cx="257.8" cy="353.6" r="1.1" fill="#f77e2c"/>
<rect x="402.9" y="6.5" width="139.4" height="119.9" fill="none" stroke="#4e4e4e" stroke-width="1.1"/>
<line x1="401.1" y1="126.4" x2="402.9" y2="126.4" stroke="#4e4e4e" stroke-width="1"/>
<text transform="translate(397.9,128.64) scale(0.93,1)" text-anchor="end" stroke="#262626" stroke-width="0.15">0</text>
<line x1="401.1" y1="106.42" x2="402.9" y2="106.42" stroke="#4e4e4e" stroke-width="1"/>
<text transform="translate(397.9,108.66) scale(0.93,1)" text-anchor="end" stroke="#262626" stroke-width="0.15">0.01</text>
<line x1="401.1" y1="86.43" x2="402.9" y2="86.43" stroke="#4e4e4e" stroke-width="1"/>
<text transform="translate(397.9,88.67) scale(0.93,1)" text-anchor="end" stroke="#262626" stroke-width="0.15">0.02</text>
<line x1="401.1" y1="66.45" x2="402.9" y2="66.45" stroke="#4e4e4e" stroke-width="1"/>
<text transform="translate(397.9,68.69) scale(0.93,1)" text-anchor="end" stroke="#262626" stroke-width="0.15">0.03</text>
<line x1="401.1" y1="46.47" x2="402.9" y2="46.47" stroke="#4e4e4e" stroke-width="1"/>
<text transform="translate(397.9,48.71) scale(0.93,1)" text-anchor="end" stroke="#262626" stroke-width="0.15">0.04</text>
<line x1="401.1" y1="26.48" x2="402.9" y2="26.48" stroke="#4e4e4e" stroke-width="1"/>
<text transform="translate(397.9,28.72) scale(0.93,1)" text-anchor="end" stroke="#262626" stroke-width="0.15">0.05</text>
<line x1="401.1" y1="6.5" x2="402.9" y2="6.5" stroke="#4e4e4e" stroke-width="1"/>
<text transform="translate(397.9,8.74) scale(0.93,1)" text-anchor="end" stroke="#262626" stroke-width="0.15">0.06</text>
<line x1="402.9" y1="126.4" x2="402.9" y2="127.8" stroke="#4e4e4e" stroke-width="1"/>
<line x1="472.6" y1="126.4" x2="472.6" y2="127.8" stroke="#4e4e4e" stroke-width="1"/>
<line x1="542.3" y1="126.4" x2="542.3" y2="127.8" stroke="#4e4e4e" stroke-width="1"/>
<text transform="translate(407.3,23.94) scale(0.93,1)" text-anchor="start" stroke="#262626" stroke-width="0.15">Sensitized</text>
<text transform="translate(407.3,68.74) scale(0.93,1)" text-anchor="start" stroke="#262626" stroke-width="0.15">Slightly Sensitized</text>
<text transform="translate(407,113.04) scale(0.93,1)" text-anchor="start" stroke="#262626" stroke-width="0.15">Unsensitized</text>
<text transform="translate(437.75,123.03) scale(0.93,1)" text-anchor="middle" stroke="#262626" stroke-width="0.15">0.00003</text>
<text transform="translate(437.75,134.94) scale(0.93,1)" text-anchor="middle" stroke="#262626" stroke-width="0.15">304LB</text>
<rect x="496.35" y="100.42" width="22.2" height="25.98" fill="#fd8126"/>
<text transform="translate(507.45,97.11) scale(0.93,1)" text-anchor="middle" stroke="#262626" stroke-width="0.15">0.01300</text>
<text transform="translate(507.45,134.94) scale(0.93,1)" text-anchor="middle" stroke="#262626" stroke-width="0.15">304LB-USP</text>
<line x1="403.5" y1="26.48" x2="541.7" y2="26.48" stroke="#f28e98" stroke-width="0.85" stroke-dasharray="0.7 0.6"/>
<line x1="403.5" y1="106.42" x2="541.7" y2="106.42" stroke="#f28e98" stroke-width="0.85" stroke-dasharray="0.7 0.6"/>
<text transform="translate(384.3,66.45) rotate(-90) scale(0.93,1)" text-anchor="middle" stroke="#262626" stroke-width="0.15">DOS, I<tspan font-size="4.1" dy="1.3">r</tspan><tspan dy="-1.3">/I</tspan><tspan font-size="4.1" dy="1.3">a</tspan></text>
<rect x="402.9" y="147.4" width="139.4" height="119.2" fill="none" stroke="#4e4e4e" stroke-width="1.1"/>
<line x1="401.1" y1="266.6" x2="402.9" y2="266.6" stroke="#4e4e4e" stroke-width="1"/>
<text transform="translate(397.9,268.84) scale(0.93,1)" text-anchor="end" stroke="#262626" stroke-width="0.15">0</text>
<line x1="401.1" y1="246.73" x2="402.9" y2="246.73" stroke="#4e4e4e" stroke-width="1"/>
<text transform="translate(397.9,248.97) scale(0.93,1)" text-anchor="end" stroke="#262626" stroke-width="0.15">0.01</text>
<line x1="401.1" y1="226.87" x2="402.9" y2="226.87" stroke="#4e4e4e" stroke-width="1"/>
<text transform="translate(397.9,229.11) scale(0.93,1)" text-anchor="end" stroke="#262626" stroke-width="0.15">0.02</text>
<line x1="401.1" y1="207" x2="402.9" y2="207" stroke="#4e4e4e" stroke-width="1"/>
<text transform="translate(397.9,209.24) scale(0.93,1)" text-anchor="end" stroke="#262626" stroke-width="0.15">0.03</text>
<line x1="401.1" y1="187.13" x2="402.9" y2="187.13" stroke="#4e4e4e" stroke-width="1"/>
<text transform="translate(397.9,189.37) scale(0.93,1)" text-anchor="end" stroke="#262626" stroke-width="0.15">0.04</text>
<line x1="401.1" y1="167.27" x2="402.9" y2="167.27" stroke="#4e4e4e" stroke-width="1"/>
<text transform="translate(397.9,169.51) scale(0.93,1)" text-anchor="end" stroke="#262626" stroke-width="0.15">0.05</text>
<line x1="401.1" y1="147.4" x2="402.9" y2="147.4" stroke="#4e4e4e" stroke-width="1"/>
<text transform="translate(397.9,149.64) scale(0.93,1)" text-anchor="end" stroke="#262626" stroke-width="0.15">0.06</text>
<line x1="402.9" y1="266.6" x2="402.9" y2="268" stroke="#4e4e4e" stroke-width="1"/>
<line x1="472.6" y1="266.6" x2="472.6" y2="268" stroke="#4e4e4e" stroke-width="1"/>
<line x1="542.3" y1="266.6" x2="542.3" y2="268" stroke="#4e4e4e" stroke-width="1"/>
<text transform="translate(407.3,164.14) scale(0.93,1)" text-anchor="start" stroke="#262626" stroke-width="0.15">Sensitized</text>
<text transform="translate(407.3,209.64) scale(0.93,1)" text-anchor="start" stroke="#262626" stroke-width="0.15">Slightly Sensitized</text>
<text transform="translate(407,253.94) scale(0.93,1)" text-anchor="start" stroke="#262626" stroke-width="0.15">Unsensitized</text>
<rect x="426.65" y="264.71" width="22.2" height="1.89" fill="#0868cc"/>
<text transform="translate(437.75,261.4) scale(0.93,1)" text-anchor="middle" stroke="#262626" stroke-width="0.15">0.00095</text>
<text transform="translate(437.75,275.14) scale(0.93,1)" text-anchor="middle" stroke="#262626" stroke-width="0.15">304LW-H</text>
<rect x="496.35" y="244.75" width="22.2" height="21.85" fill="#fd8126"/>
<text transform="translate(507.45,241.44) scale(0.93,1)" text-anchor="middle" stroke="#262626" stroke-width="0.15">0.01100</text>
<text transform="translate(507.45,275.14) scale(0.93,1)" text-anchor="middle" stroke="#262626" stroke-width="0.15">304LW-H-USP</text>
<line x1="403.5" y1="167.27" x2="541.7" y2="167.27" stroke="#f28e98" stroke-width="0.85" stroke-dasharray="0.7 0.6"/>
<line x1="403.5" y1="246.73" x2="541.7" y2="246.73" stroke="#f28e98" stroke-width="0.85" stroke-dasharray="0.7 0.6"/>
<text transform="translate(384.3,207) rotate(-90) scale(0.93,1)" text-anchor="middle" stroke="#262626" stroke-width="0.15">DOS, I<tspan font-size="4.1" dy="1.3">r</tspan><tspan dy="-1.3">/I</tspan><tspan font-size="4.1" dy="1.3">a</tspan></text>
<rect x="402.9" y="288.3" width="139.4" height="119.4" fill="none" stroke="#4e4e4e" stroke-width="1.1"/>
<line x1="401.1" y1="407.7" x2="402.9" y2="407.7" stroke="#4e4e4e" stroke-width="1"/>
<text transform="translate(397.9,409.94) scale(0.93,1)" text-anchor="end" stroke="#262626" stroke-width="0.15">0</text>
<line x1="401.1" y1="387.8" x2="402.9" y2="387.8" stroke="#4e4e4e" stroke-width="1"/>
<text transform="translate(397.9,390.04) scale(0.93,1)" text-anchor="end" stroke="#262626" stroke-width="0.15">0.01</text>
<line x1="401.1" y1="367.9" x2="402.9" y2="367.9" stroke="#4e4e4e" stroke-width="1"/>
<text transform="translate(397.9,370.14) scale(0.93,1)" text-anchor="end" stroke="#262626" stroke-width="0.15">0.02</text>
<line x1="401.1" y1="348" x2="402.9" y2="348" stroke="#4e4e4e" stroke-width="1"/>
<text transform="translate(397.9,350.24) scale(0.93,1)" text-anchor="end" stroke="#262626" stroke-width="0.15">0.03</text>
<line x1="401.1" y1="328.1" x2="402.9" y2="328.1" stroke="#4e4e4e" stroke-width="1"/>
<text transform="translate(397.9,330.34) scale(0.93,1)" text-anchor="end" stroke="#262626" stroke-width="0.15">0.04</text>
<line x1="401.1" y1="308.2" x2="402.9" y2="308.2" stroke="#4e4e4e" stroke-width="1"/>
<text transform="translate(397.9,310.44) scale(0.93,1)" text-anchor="end" stroke="#262626" stroke-width="0.15">0.05</text>
<line x1="401.1" y1="288.3" x2="402.9" y2="288.3" stroke="#4e4e4e" stroke-width="1"/>
<text transform="translate(397.9,290.54) scale(0.93,1)" text-anchor="end" stroke="#262626" stroke-width="0.15">0.06</text>
<line x1="402.9" y1="407.7" x2="402.9" y2="409.1" stroke="#4e4e4e" stroke-width="1"/>
<line x1="472.6" y1="407.7" x2="472.6" y2="409.1" stroke="#4e4e4e" stroke-width="1"/>
<line x1="542.3" y1="407.7" x2="542.3" y2="409.1" stroke="#4e4e4e" stroke-width="1"/>
<text transform="translate(407.3,305.54) scale(0.93,1)" text-anchor="start" stroke="#262626" stroke-width="0.15">Sensitized</text>
<text transform="translate(407.3,350.54) scale(0.93,1)" text-anchor="start" stroke="#262626" stroke-width="0.15">Slightly Sensitized</text>
<text transform="translate(407,394.84) scale(0.93,1)" text-anchor="start" stroke="#262626" stroke-width="0.15">Unsensitized</text>
<rect x="426.65" y="405.63" width="22.2" height="2.07" fill="#0868cc"/>
<text transform="translate(437.75,402.32) scale(0.93,1)" text-anchor="middle" stroke="#262626" stroke-width="0.15">0.00104</text>
<text transform="translate(437.75,416.24) scale(0.93,1)" text-anchor="middle" stroke="#262626" stroke-width="0.15">304LW-W</text>
<rect x="496.35" y="383.82" width="22.2" height="23.88" fill="#fd8126"/>
<text transform="translate(507.45,380.51) scale(0.93,1)" text-anchor="middle" stroke="#262626" stroke-width="0.15">0.01200</text>
<text transform="translate(507.45,416.24) scale(0.93,1)" text-anchor="middle" stroke="#262626" stroke-width="0.15">304LW-W-USP</text>
<line x1="403.5" y1="308.2" x2="541.7" y2="308.2" stroke="#f28e98" stroke-width="0.85" stroke-dasharray="0.7 0.6"/>
<line x1="403.5" y1="387.8" x2="541.7" y2="387.8" stroke="#f28e98" stroke-width="0.85" stroke-dasharray="0.7 0.6"/>
<text transform="translate(384.3,348) rotate(-90) scale(0.93,1)" text-anchor="middle" stroke="#262626" stroke-width="0.15">DOS, I<tspan font-size="4.1" dy="1.3">r</tspan><tspan dy="-1.3">/I</tspan><tspan font-size="4.1" dy="1.3">a</tspan></text>
</svg>
</body></html>
